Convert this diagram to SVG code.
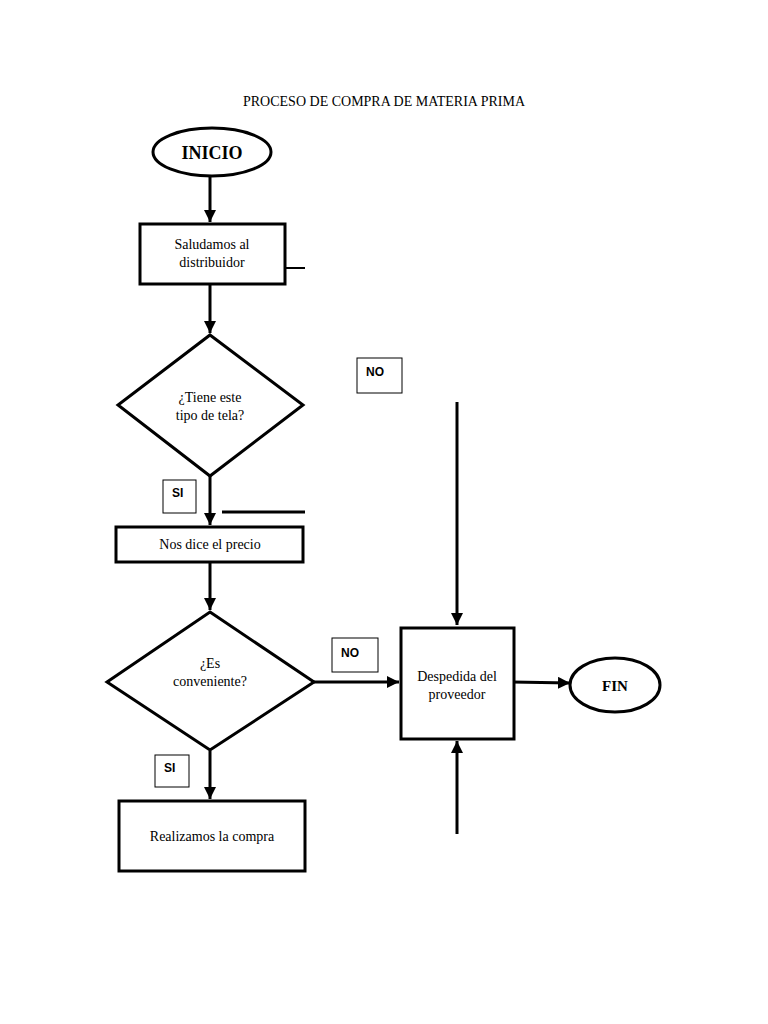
<svg xmlns="http://www.w3.org/2000/svg" width="768" height="1024" viewBox="0 0 768 1024">
<style>
.s{fill:#fff;stroke:#000;stroke-width:3}
.l{fill:#fff;stroke:#000;stroke-width:1}
.c{stroke:#000;stroke-width:3;fill:none}
.t{font-family:"Liberation Serif",serif;font-size:14px;text-anchor:middle}
.b{font-family:"Liberation Serif",serif;font-size:18px;font-weight:bold;text-anchor:middle}
.k{font-family:"Liberation Sans",sans-serif;font-size:12px;font-weight:bold}
</style>
<defs><marker id="a" viewBox="0 0 10 10" refX="10" refY="5" markerWidth="4" markerHeight="4" orient="auto"><path d="M0,0L10,5L0,10z"/></marker></defs>
<rect width="768" height="1024" fill="#fff"/>
<text x="384" y="106" class="t">PROCESO DE COMPRA DE MATERIA PRIMA</text>
<g id="conn">
<line class="c" x1="210" y1="177" x2="210" y2="222" marker-end="url(#a)"/>
<line class="c" x1="210" y1="285" x2="210" y2="333" marker-end="url(#a)"/>
<line class="c" x1="210" y1="476" x2="210" y2="525" marker-end="url(#a)"/>
<line class="c" x1="210" y1="563" x2="210" y2="610" marker-end="url(#a)"/>
<line class="c" x1="210" y1="751" x2="210" y2="799" marker-end="url(#a)"/>
<line class="c" x1="314" y1="682" x2="399" y2="682" marker-end="url(#a)"/>
<line class="c" x1="512" y1="682" x2="570" y2="683" marker-end="url(#a)"/>
<line class="c" x1="457" y1="402" x2="457" y2="625" marker-end="url(#a)"/>
<line class="c" x1="457" y1="834" x2="457" y2="741" marker-end="url(#a)"/>
<line stroke="#000" stroke-width="2" x1="220" y1="268" x2="305" y2="268"/>
<line class="c" x1="222" y1="512" x2="305" y2="512"/>
</g>
<g id="inicio"><ellipse class="s" cx="212" cy="152" rx="59" ry="24"/><text x="212" y="159" class="b">INICIO</text></g>
<g id="saludamos"><rect class="s" x="140" y="224" width="145" height="60"/><text x="212" y="249" class="t">Saludamos al</text><text x="212" y="267" class="t">distribuidor</text></g>
<g id="tiene"><polygon class="s" points="210,335 303,405 210,476 118,405"/><text x="210" y="402" class="t">¿Tiene este</text><text x="210" y="420" class="t">tipo de tela?</text></g>
<g id="precio"><rect class="s" x="116" y="527" width="187" height="35"/><text x="210" y="549" class="t">Nos dice el precio</text></g>
<g id="conveniente"><polygon class="s" points="210,612 314,682 210,750 107,682"/><text x="210" y="668" class="t">¿Es</text><text x="210" y="686" class="t">conveniente?</text></g>
<g id="compra"><rect class="s" x="119" y="801" width="186" height="70"/><text x="212" y="841" class="t">Realizamos la compra</text></g>
<g id="despedida"><rect class="s" x="401" y="628" width="113" height="111"/><text x="457" y="681" class="t">Despedida del</text><text x="457" y="699" class="t">proveedor</text></g>
<g id="fin"><ellipse class="s" cx="615" cy="685" rx="45" ry="27"/><text x="615" y="691" class="b" style="font-size:15px">FIN</text></g>
<g id="labels">
<rect class="l" x="357" y="358" width="45" height="35"/><text x="366" y="376" class="k">NO</text>
<rect class="l" x="163" y="480" width="33" height="33"/><text x="172" y="497" class="k">SI</text>
<rect class="l" x="332" y="638" width="46" height="34"/><text x="341" y="657" class="k">NO</text>
<rect class="l" x="155" y="755" width="34" height="32"/><text x="164" y="772" class="k">SI</text>
</g>
</svg>
